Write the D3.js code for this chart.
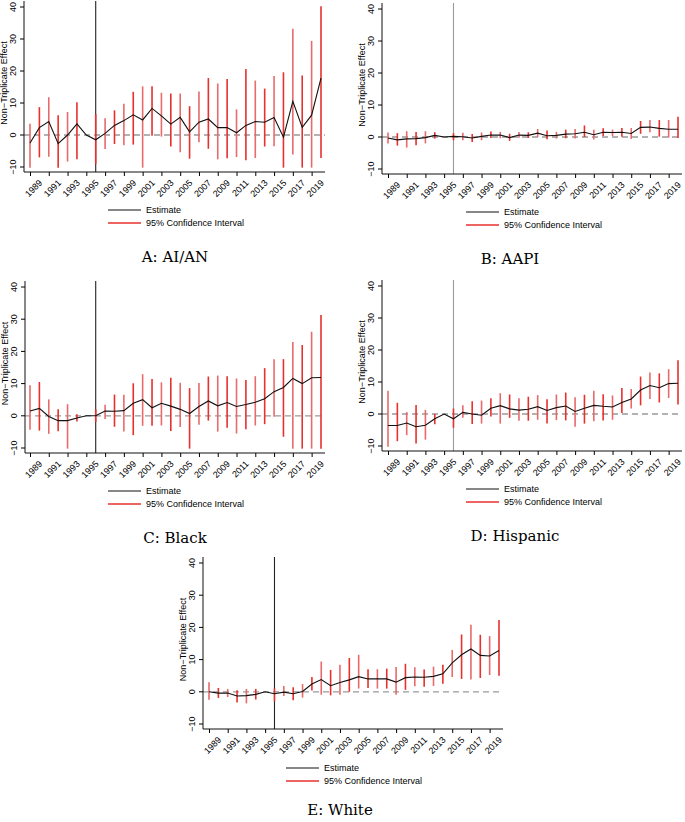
<!DOCTYPE html>
<html><head><meta charset="utf-8">
<script src="https://cdn.jsdelivr.net/npm/d3@7"></script>
<style>body{margin:0;background:#fff}svg{display:block}</style>
</head><body>
<svg id="c" width="685" height="822"></svg>
<script>
const years = d3.range(1989, 2021);
const yTicks = [-10, 0, 10, 20, 30, 40];
const xTickYears = d3.range(1989, 2021, 2);

const estA = [-2.5,2.3,4.2,-2.7,0,3.5,0,-1.5,0.5,3,4.5,6.3,4.7,8.3,6,3.4,5.5,1,4,5,2.3,2.3,0.7,3,4.2,4,5.5,-0.7,10.5,2.4,6.2,17.8];
const loA = [-10.2,-7,-6.8,-10.2,-8.3,-7.6,null,-9,-4.4,-2.8,-3.2,-3,-10.2,-0.2,-0.5,-3.6,-5.4,-7.4,-2.3,-4.3,-7.6,-7.3,-6.9,-7.9,-7.2,-3.6,-3.5,-10.2,-6.1,-10.2,-10.2,-7.2];
const hiA = [3.5,8.7,11.8,6.2,7.2,10.2,null,6.5,5.2,7.7,9.8,13.5,15.2,15.2,13.2,13,13,9,13.6,17.8,16.1,17.5,8,20.6,17,14.5,18.4,19.6,33.2,18.6,29.4,40.2];

const estB = [-0.3,-0.9,-0.6,-0.5,-0.2,0.5,0,0.2,0.1,-0.3,0.2,0.6,0.6,-0.2,0.6,0.5,1.2,0.4,0.5,0.9,1,1.5,0.7,1.5,1.4,1.5,1.1,3,3.1,2.7,2.4,2.4];
const loB = [-2,-2.7,-3.3,-2.6,-2,-0.5,null,-1,-1,-1.6,-1,-0.3,-0.4,-1.2,-0.2,-0.3,0,-0.7,-0.5,-0.4,-0.5,0,-0.8,0.3,0.3,0.1,-0.6,1,1.5,0.1,-0.2,-0.3];
const hiB = [1.4,1.2,1.8,1.6,1.8,1.5,null,1.2,1.3,0.9,1.4,1.7,1.6,1,1.6,1.5,2.5,2,1.6,2.3,2.5,3.6,2.3,2.7,2.3,2.8,2.8,5,5.3,5.3,5.3,6.3];

const estC = [1.5,2.3,-0.2,-1.5,-1.5,-0.7,0,0,1.5,1.4,1.6,3.9,5,2.5,3.9,3,2,0.7,2.9,4.6,3.1,4.1,2.9,3.5,4.2,5.3,7.5,8.8,11.6,10,11.8,11.9];
const loC = [-4.3,-4.6,-5.6,-4.8,-10.2,-1.8,null,-1.9,-1,-3.4,-4.9,-6,-3.1,-3.1,-3,-4.7,-3.5,-10.2,-2.8,-1.5,-4.9,-3.7,-5.5,-4.2,-3,-2.6,-0.3,-6.5,-10.2,-10.2,-10.2,-10.2];
const hiC = [9.5,10.5,5.1,2,3.6,0.5,null,2,3.4,6.6,6.5,10.1,12.9,11.4,10.4,11.8,10.3,8.6,10.2,12.2,12.5,12.3,11.6,11.1,12.3,14.8,17.6,17.6,22.9,22,26.1,31.3];

const estD = [-3.6,-3.6,-2.8,-4,-3.5,-1.5,0,-1.5,0.5,0,-0.4,1.8,2.6,1.6,1.2,1.5,2.3,1.1,2,2.5,0.8,1.8,2.7,2.4,2.2,3.6,4.7,7.5,8.9,8.2,9.5,9.6];
const loD = [-10.2,-8.5,-6.6,-9.2,-8,-3.2,null,-4.3,-1.2,-3.1,-3,-0.8,-3,-1.2,-2.1,-2.1,-1.8,-3,-1.9,-2,-4,-3,-2.3,-2,-1.8,0.3,1.7,2.7,4.7,3.6,5,3];
const hiD = [7.3,3.5,0.6,2.8,1.3,0,null,1.7,2.7,4,4.2,4.9,6.5,6.1,4.9,5.4,5.9,4.6,6.1,6.7,5.2,6,7.3,6.2,5.8,8.1,7.8,11.7,13,12.7,14,16.8];

const estE = [0,-0.4,-0.4,-1.3,-1.2,-0.8,0,-0.6,-0.1,-0.6,0.1,2.4,3.8,1.9,2.9,3.7,4.7,4,4,4,3,4.4,4.6,4.5,4.8,5.6,9,11.5,13.3,11.3,11.1,12.8];
const loE = [-2.5,-1.9,-1.6,-3.3,-3.6,-2.4,null,-3,-1.3,-2.6,-1.8,0.4,-0.9,-1.1,-0.9,0,1,1.2,1,1,-0.9,0.6,1.7,1.6,1.8,2.5,4.6,4,3.8,4.3,5.2,5];
const hiE = [3,1.2,0.9,0.5,0.9,0.9,null,1.1,1.8,1.4,2.4,4.6,9.4,6.8,8.4,10.5,11.5,7,7,7.2,7.7,8.7,7.6,6.9,7.8,8.4,13,17.8,20.8,17.7,17.3,22.3];

const panels = [
  {cap:"A: AI/AN", est:estA, lo:loA, hi:hiA, ax:24, x0:30, x1:321, yTop:7, yBot:167, base:172, vcol:"#222", legX:108, legY:210, capX:175, capY:262},
  {cap:"B: AAPI", est:estB, lo:loB, hi:hiB, ax:382, x0:388, x1:678, yTop:9, yBot:169, base:174, vcol:"#999", legX:466, legY:212, capX:510, capY:264},
  {cap:"C: Black", est:estC, lo:loC, hi:hiC, ax:25, x0:30, x1:321, yTop:287, yBot:448, base:453, vcol:"#222", legX:108, legY:491, capX:175, capY:543},
  {cap:"D: Hispanic", est:estD, lo:loD, hi:hiD, ax:382, x0:388, x1:678, yTop:286, yBot:446, base:451, vcol:"#999", legX:466, legY:489, capX:515, capY:541},
  {cap:"E: White", est:estE, lo:loE, hi:hiE, ax:203, x0:209, x1:499, yTop:563, yBot:724, base:729, vcol:"#222", legX:286, legY:768, capX:340, capY:815}
];

const svg = d3.select("#c");
const font = "Liberation Sans, Arial, sans-serif";

panels.forEach(p => {
  const x = d3.scaleLinear().domain([1989, 2020]).range([p.x0, p.x1]);
  const y = d3.scaleLinear().domain([-10, 40]).range([p.yBot, p.yTop]);
  const g = svg.append("g");
  const right = p.x1 + 4;

  // zero line
  g.append("line").attr("x1", p.ax).attr("x2", right).attr("y1", y(0)).attr("y2", y(0))
    .attr("stroke", "#999").attr("stroke-width", 1.3).attr("stroke-dasharray", "6,4");
  // policy line
  g.append("line").attr("x1", x(1996)).attr("x2", x(1996)).attr("y1", p.yTop - 6).attr("y2", p.base)
    .attr("stroke", p.vcol).attr("stroke-width", 1.1);

  // CI bars
  years.forEach((yr, i) => {
    if (p.lo[i] == null) return;
    g.append("line").attr("x1", x(yr)).attr("x2", x(yr))
      .attr("y1", y(p.lo[i])).attr("y2", y(p.hi[i]))
      .attr("stroke", i % 2 ? "#e8302c" : "#e86a6a").attr("stroke-width", 1.6);
  });

  // estimate line
  g.append("path").datum(years.map((yr, i) => [yr, p.est[i]]))
    .attr("d", d3.line().x(d => x(d[0])).y(d => y(d[1])))
    .attr("fill", "none").attr("stroke", "#111").attr("stroke-width", 1.1);

  // y axis
  const ya = g.append("g").attr("transform", `translate(${p.ax},0)`)
    .call(d3.axisLeft(y).tickValues(yTicks).tickSize(4).tickFormat(d => d < 0 ? "\u2212" + (-d) : d));
  ya.select(".domain").attr("d", `M0,${p.yTop - 6}V${p.base}`).attr("stroke", "#111");
  ya.selectAll("text").attr("font-family", font).attr("font-size", 9)
    .attr("transform", function(d) { return `rotate(-90,-7,${y(d)})`; })
    .attr("x", -7).attr("y", d => y(d)).attr("dy", "-0.1em").attr("text-anchor", "middle")
    .each(function(d) { d3.select(this).attr("transform", `rotate(-90,-7,${y(d)})`); });
  ya.selectAll(".tick").attr("transform", null);
  ya.selectAll(".tick line").attr("y1", d => y(d)).attr("y2", d => y(d));

  g.append("text").attr("transform", `translate(${p.ax - 17},${(p.yTop + p.yBot) / 2 - 4}) rotate(-90)`)
    .attr("text-anchor", "middle").attr("font-family", font).attr("font-size", 9)
    .text("Non\u2212Triplicate Effect");

  // x axis
  const xa = g.append("g").attr("transform", `translate(0,${p.base})`)
    .call(d3.axisBottom(x).tickValues(xTickYears).tickSize(4).tickFormat(d3.format("d")));
  xa.select(".domain").attr("d", `M${p.ax},0H${right}`).attr("stroke", "#111");
  xa.selectAll("text").attr("font-family", font).attr("font-size", 9)
    .attr("text-anchor", "end").attr("transform", "translate(3,2) rotate(-45)").attr("dy", "0.7em");

  // legend
  const lg = g.append("g").attr("font-family", font).attr("font-size", 9);
  lg.append("line").attr("x1", p.legX).attr("x2", p.legX + 33).attr("y1", p.legY).attr("y2", p.legY).attr("stroke", "#111").attr("stroke-width", 1.1);
  lg.append("text").attr("x", p.legX + 38).attr("y", p.legY + 3).text("Estimate");
  lg.append("line").attr("x1", p.legX).attr("x2", p.legX + 33).attr("y1", p.legY + 13).attr("y2", p.legY + 13).attr("stroke", "#e8302c").attr("stroke-width", 1.3);
  lg.append("text").attr("x", p.legX + 38).attr("y", p.legY + 16).text("95% Confidence Interval");

  g.append("text").attr("x", p.capX).attr("y", p.capY).attr("text-anchor", "middle")
    .attr("font-family", "DejaVu Serif, Liberation Serif, serif").attr("font-size", 15).text(p.cap);
});
</script>
</body></html>
